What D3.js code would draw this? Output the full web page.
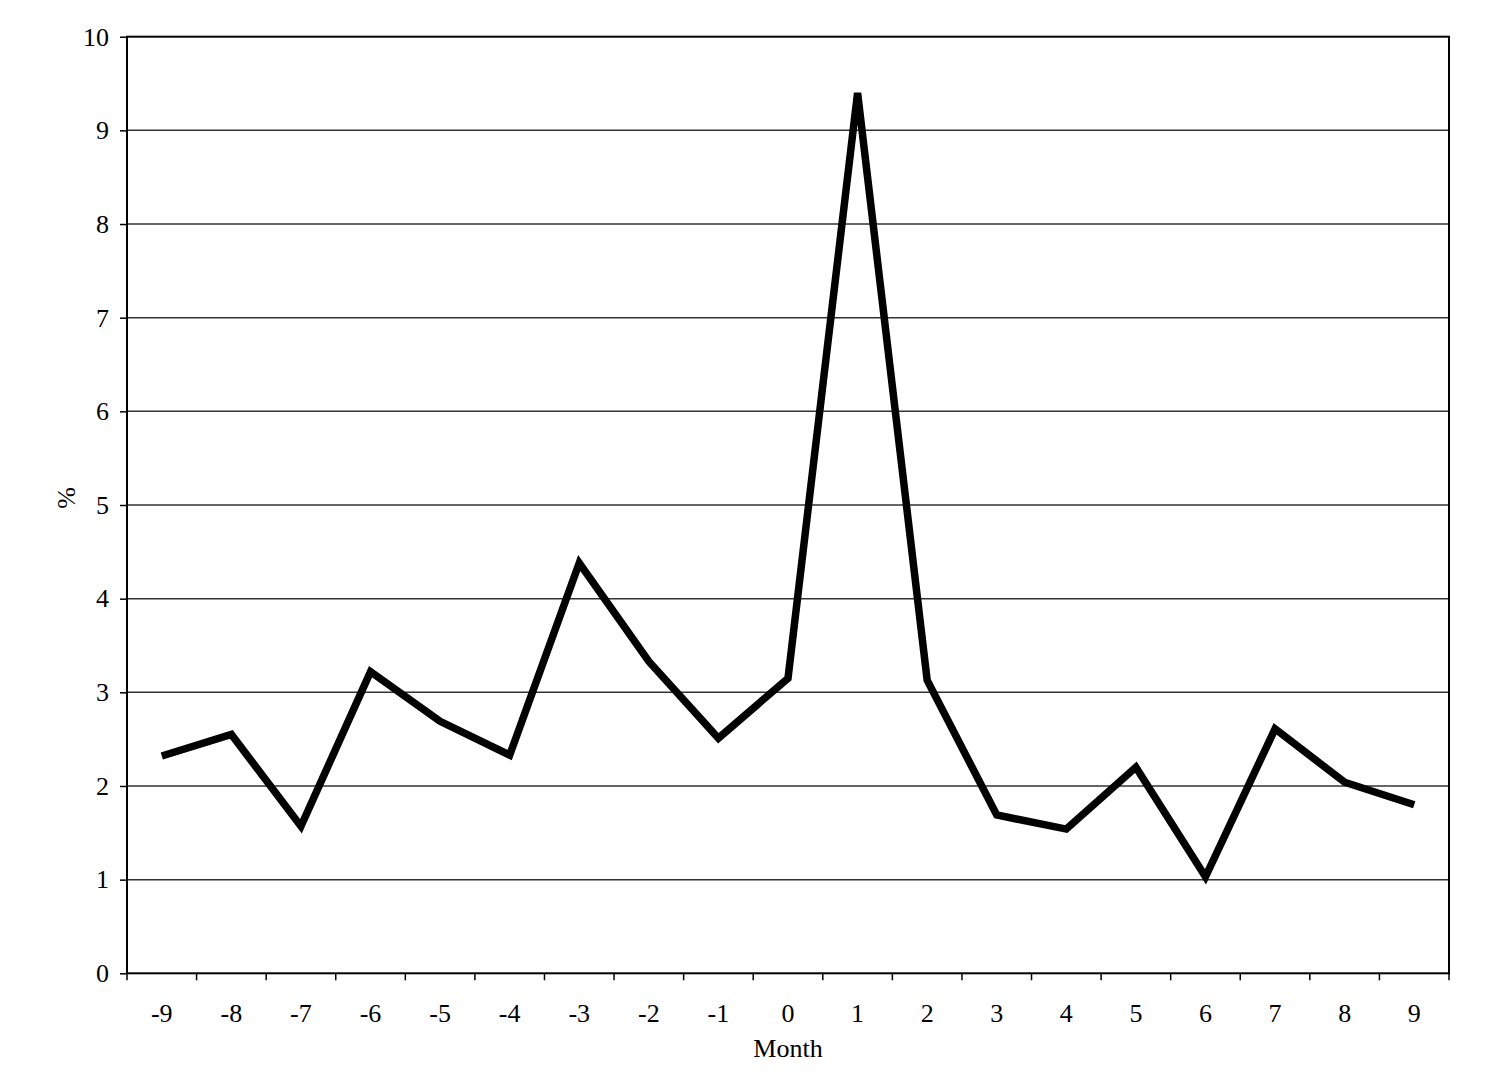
<!DOCTYPE html>
<html><head><meta charset="utf-8">
<script src="https://cdn.jsdelivr.net/npm/d3@7"></script>
<style>html,body{margin:0;padding:0;background:#fff;}svg{display:block;}</style>
</head><body><svg id="chart" width="1492" height="1081"></svg>
<script>
const months = [-9,-8,-7,-6,-5,-4,-3,-2,-1,0,1,2,3,4,5,6,7,8,9];
const values = [2.32,2.55,1.57,3.22,2.69,2.33,4.38,3.33,2.51,3.15,9.40,3.13,1.69,1.54,2.20,1.03,2.61,2.04,1.80];
const yTicks = [0,1,2,3,4,5,6,7,8,9,10];
const yLabel = "%";
const xLabel = "Month";

const svg = d3.select("#chart");
const m = {left:127, right:1449, top:36.7, bottom:973.3};
const x = d3.scaleBand().domain(months).range([m.left, m.right]);
const y = d3.scaleLinear().domain([0,10]).range([m.bottom, m.top]);
const font = "'Liberation Serif','Times New Roman',serif";
const fs = 26;

// gridlines
svg.append("g").selectAll("line").data(yTicks.filter(d=>d>0 && d<10)).join("line")
  .attr("x1", m.left).attr("x2", m.right)
  .attr("y1", d=>y(d)).attr("y2", d=>y(d))
  .attr("stroke", "#333").attr("stroke-width", 1.5);

// frame
svg.append("rect").attr("x", m.left).attr("y", m.top)
  .attr("width", m.right-m.left).attr("height", m.bottom-m.top)
  .attr("fill","none").attr("stroke","#000").attr("stroke-width",2);

// y axis
const yAxis = d3.axisLeft(y).tickValues(yTicks).tickSize(7).tickPadding(11).tickFormat(d3.format("d"));
const gy = svg.append("g").attr("transform", `translate(${m.left},0)`).call(yAxis);
gy.select(".domain").remove();
gy.attr("font-size", fs).attr("font-family", font);
gy.selectAll(".tick line").attr("stroke","#000").attr("stroke-width",1.5);
gy.selectAll(".tick text").style("font-family", font).style("font-size", fs+"px").attr("fill","#000");

// x axis: ticks at band boundaries, labels at band centers
const bounds = months.map(d=>x(d)).concat([m.right]);
svg.append("g").selectAll("line").data(bounds).join("line")
  .attr("x1", d=>d).attr("x2", d=>d)
  .attr("y1", m.bottom).attr("y2", m.bottom+7)
  .attr("stroke","#000").attr("stroke-width",1.5);
svg.append("g").selectAll("text").data(months).join("text")
  .attr("x", d=>x(d)+x.bandwidth()/2).attr("y", 1022)
  .attr("text-anchor","middle")
  .style("font-family", font).style("font-size", fs+"px").attr("fill","#000")
  .text(d=>d);

// labels
svg.append("text").attr("x", 788).attr("y", 1057).attr("text-anchor","middle")
  .style("font-family", font).style("font-size", fs+"px").text(xLabel);
svg.append("text").attr("transform","translate(75,498) rotate(-90)").attr("text-anchor","middle")
  .style("font-family", font).style("font-size", fs+"px").text(yLabel);

// line
const line = d3.line().x((d,i)=>x(months[i])+x.bandwidth()/2).y(d=>y(d));
svg.append("path").datum(values).attr("d", line)
  .attr("fill","none").attr("stroke","#000").attr("stroke-width",7.5)
  .attr("stroke-linejoin","miter").attr("stroke-miterlimit",4);
</script></body></html>
